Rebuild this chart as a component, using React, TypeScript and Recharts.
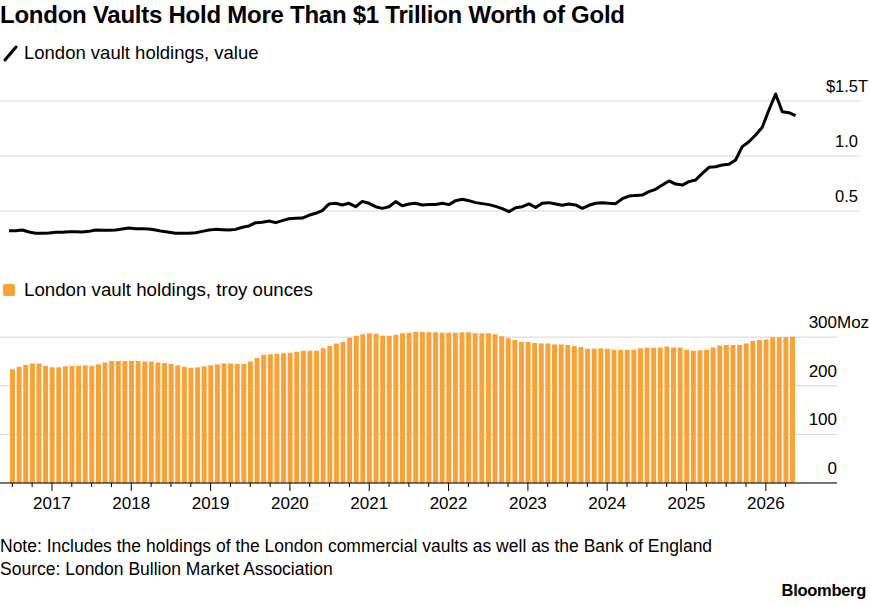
import { ComposedChart, Line, Bar, XAxis, YAxis, CartesianGrid } from 'recharts'

const FONT = '"Liberation Sans", Arial, sans-serif'
const ORANGE = '#F8A33A'

// Monthly readings, July 2016 through May 2026
const START_YEAR = 2016
const START_MONTH = 7

// Value of London vault holdings, trillions of dollars
const valueTrillions = [
  0.321, 0.321, 0.327, 0.309, 0.297, 0.297, 0.300, 0.306, 0.306, 0.312,
  0.312, 0.309, 0.315, 0.327, 0.324, 0.324, 0.327, 0.336, 0.345, 0.339,
  0.339, 0.336, 0.327, 0.315, 0.306, 0.297, 0.297, 0.297, 0.303, 0.315,
  0.327, 0.333, 0.330, 0.327, 0.333, 0.352, 0.364, 0.394, 0.397, 0.409,
  0.394, 0.412, 0.430, 0.433, 0.436, 0.461, 0.479, 0.503, 0.564, 0.570,
  0.555, 0.570, 0.539, 0.588, 0.570, 0.539, 0.524, 0.539, 0.585, 0.548,
  0.564, 0.570, 0.555, 0.558, 0.560, 0.570, 0.558, 0.594, 0.606, 0.594,
  0.576, 0.567, 0.558, 0.542, 0.521, 0.494, 0.530, 0.539, 0.564, 0.533,
  0.570, 0.576, 0.564, 0.552, 0.564, 0.555, 0.524, 0.552, 0.570, 0.576,
  0.570, 0.567, 0.612, 0.636, 0.642, 0.645, 0.676, 0.697, 0.736, 0.773,
  0.745, 0.736, 0.767, 0.782, 0.842, 0.897, 0.903, 0.918, 0.924, 0.964,
  1.085, 1.130, 1.191, 1.261, 1.418, 1.564, 1.403, 1.394, 1.367,
]

// London vault holdings, millions of troy ounces
const ouncesMoz = [
  234, 239, 243, 246, 246, 241, 238, 238, 240, 241,
  241, 242, 241, 244, 248, 251, 251, 251, 251, 251,
  250, 250, 248, 247, 245, 242, 239, 237, 238, 240,
  242, 244, 246, 246, 245, 245, 250, 257, 264, 265,
  266, 267, 268, 270, 272, 272, 272, 277, 282, 287,
  290, 299, 303, 306, 308, 307, 303, 303, 305, 308,
  309, 311, 311, 310, 310, 309, 309, 309, 310, 310,
  308, 308, 308, 306, 302, 298, 294, 290, 290, 288,
  287, 287, 285, 285, 284, 282, 280, 276, 276, 277,
  276, 274, 274, 274, 274, 277, 278, 278, 279, 281,
  279, 279, 274, 272, 273, 274, 279, 283, 284, 284,
  284, 287, 292, 294, 295, 300, 300, 300, 301,
]

const valueTicks = [0.5, 1.0, 1.5]
const ounceTicks = [0, 100, 200, 300]

const months = valueTrillions.map((_, i) => {
  const m = START_MONTH - 1 + i
  const year = START_YEAR + Math.floor(m / 12)
  return `${year}-${String((m % 12) + 1).padStart(2, '0')}`
})

const data = months.map((month, i) => ({
  month,
  value: valueTrillions[i],
  ounces: ouncesMoz[i],
}))

// quarterly ticks, year labels on January
const quarterTicks = months.filter((m) => ['01', '04', '07', '10'].includes(m.slice(5)))

// bands run from x=9 to x=795.6 in both panels
const BAND_LEFT = 9
const BAND_RIGHT = 795.6
const TOP_PLOT_RIGHT = 860
const BOTTOM_PLOT_RIGHT = 837

const MonthTick = ({ x, y, payload }: any) => {
  const isYear = String(payload.value).endsWith('-01')
  return (
    <g>
      <line x1={x} x2={x} y1={y} y2={y + (isYear ? 8 : 4)} stroke='#000' strokeWidth={1} />
      {isYear && (
        <text x={x} y={y + 26} textAnchor='middle' fontSize={17} fontFamily={FONT} fill='#000'>
          {String(payload.value).slice(0, 4)}
        </text>
      )}
    </g>
  )
}

const ValueTick = ({ y, payload }: any) => {
  const v = payload.value
  const top = v === valueTicks[valueTicks.length - 1]
  return (
    <g fontSize={16.5} fontFamily={FONT} fill='#000'>
      <text x={858} y={y - 9} textAnchor='end'>{top ? `$${v.toFixed(1)}` : v.toFixed(1)}</text>
      {top && <text x={858} y={y - 9} textAnchor='start'>T</text>}
    </g>
  )
}

const OunceTick = ({ y, payload }: any) => {
  const v = payload.value
  const top = v === ounceTicks[ounceTicks.length - 1]
  return (
    <g fontSize={17} fontFamily={FONT} fill='#000'>
      <text x={837} y={y - 9} textAnchor='end'>{v}</text>
      {top && <text x={837} y={y - 9} textAnchor='start'>Moz</text>}
    </g>
  )
}

const textBase = { position: 'absolute' as const, fontFamily: FONT, color: '#000', whiteSpace: 'nowrap' as const }

export default function App() {
  return (
    <div style={{ position: 'absolute', left: 0, top: 0, width: 870, height: 605, background: '#fff', overflow: 'hidden' }}>
      <div style={{ ...textBase, left: 0, top: 2, fontSize: 24, fontWeight: 700, lineHeight: '26px', letterSpacing: -0.25 }}>
        London Vaults Hold More Than $1 Trillion Worth of Gold
      </div>

      <svg style={{ position: 'absolute', left: 0, top: 40 }} width={22} height={26}>
        <line x1={5} y1={20} x2={16} y2={7} stroke='#000' strokeWidth={3} strokeLinecap='round' />
      </svg>
      <div style={{ ...textBase, left: 24, top: 40, fontSize: 18.5, lineHeight: '26px' }}>
        London vault holdings, value
      </div>

      <div style={{ position: 'absolute', left: 0, top: 68 }}>
        <ComposedChart width={870} height={198} data={data} margin={{ top: 0, right: 0, bottom: 0, left: 0 }}>
          <CartesianGrid vertical={false} horizontalValues={valueTicks} stroke='#d6d6d6' strokeWidth={1} />
          <XAxis dataKey='month' hide padding={{ left: BAND_LEFT, right: TOP_PLOT_RIGHT - BAND_RIGHT }} />
          <YAxis
            orientation='right'
            width={870 - TOP_PLOT_RIGHT}
            domain={[0, 1.8]}
            ticks={valueTicks}
            interval={0}
            axisLine={false}
            tickLine={false}
            tick={<ValueTick />}
          />
          <Line
            dataKey='value'
            type='linear'
            stroke='#000'
            strokeWidth={3}
            dot={false}
            strokeLinejoin='round'
            isAnimationActive={false}
          />
        </ComposedChart>
      </div>

      <div style={{ position: 'absolute', left: 3, top: 284, width: 12, height: 12, background: ORANGE, borderRadius: 2 }} />
      <div style={{ ...textBase, left: 24, top: 277, fontSize: 18.7, lineHeight: '26px' }}>
        London vault holdings, troy ounces
      </div>

      <div style={{ position: 'absolute', left: 0, top: 308 }}>
        <ComposedChart width={870} height={215} data={data} margin={{ top: 0, right: 0, bottom: 0, left: 0 }}>
          <CartesianGrid vertical={false} horizontalValues={ounceTicks} stroke='#d6d6d6' strokeWidth={1} />
          <XAxis
            dataKey='month'
            height={40}
            padding={{ left: BAND_LEFT, right: BOTTOM_PLOT_RIGHT - BAND_RIGHT }}
            ticks={quarterTicks}
            interval={0}
            tickSize={0}
            tickMargin={0}
            tickLine={false}
            axisLine={{ stroke: '#000', strokeWidth: 1.2 }}
            tick={<MonthTick />}
          />
          <YAxis
            orientation='right'
            width={870 - BOTTOM_PLOT_RIGHT}
            domain={[0, 360]}
            ticks={ounceTicks}
            interval={0}
            axisLine={false}
            tickLine={false}
            tick={<OunceTick />}
          />
          <Bar dataKey='ounces' fill={ORANGE} barSize={5} isAnimationActive={false} />
        </ComposedChart>
      </div>

      <div style={{ ...textBase, left: 0, top: 533, fontSize: 17.5, lineHeight: '26px' }}>
        Note: Includes the holdings of the London commercial vaults as well as the Bank of England
      </div>
      <div style={{ ...textBase, left: 0, top: 556, fontSize: 17.5, lineHeight: '26px' }}>
        Source: London Bullion Market Association
      </div>
      <div style={{ ...textBase, right: 4, top: 577, fontSize: 16.5, fontWeight: 700, lineHeight: '26px', letterSpacing: -0.3 }}>
        Bloomberg
      </div>
    </div>
  )
}
